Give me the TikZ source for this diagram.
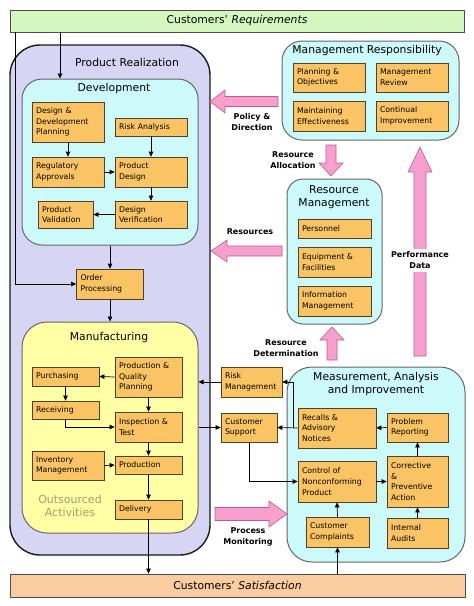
\documentclass[tikz,border=0pt]{standalone}
\usepackage{fontspec}
\setmainfont{DejaVu Sans}
\usetikzlibrary{arrows.meta}

\definecolor{reqgreen}{RGB}{212,247,192}
\definecolor{satorange}{RGB}{250,204,160}
\definecolor{boxfill}{RGB}{250,196,100}
\definecolor{boxline}{RGB}{80,64,40}
\definecolor{reallav}{RGB}{214,214,244}
\definecolor{devcyan}{RGB}{204,250,250}
\definecolor{manuyellow}{RGB}{255,255,165}
\definecolor{pinkfill}{RGB}{248,160,205}
\definecolor{pinkline}{RGB}{190,90,150}
\definecolor{outsrc}{RGB}{160,160,110}

\newcommand{\titlefont}{\fontsize{10.8}{12.5}\selectfont}
\newcommand{\itemfont}{\fontsize{7.8}{10.6}\selectfont}
\newcommand{\tagfont}{\bfseries\fontsize{8}{10.8}\selectfont}

% tail, angle, length, half body, half head, head length
\newcommand{\fatarrow}[6]{%
  \draw[bigarrow, shift={(#1)}, rotate=#2]
    (0,-#4) -- ({#3-#6},-#4) -- ({#3-#6},-#5) -- (#3,0)
    -- ({#3-#6},#5) -- ({#3-#6},#4) -- (0,#4) -- cycle;}

\begin{document}
\begin{tikzpicture}[x=1pt, y=-1pt,
    bar/.style={draw=black!70, line width=0.8pt, inner sep=0pt, font=\titlefont},
    region/.style={draw=black!75, line width=1pt, inner sep=0pt},
    title/.style={font=\titlefont, align=center, inner sep=0pt},
    item/.style={draw=boxline, fill=boxfill, line width=0.7pt, font=\itemfont,
      align=left, inner xsep=4pt, inner ysep=1pt},
    flow/.style={-{Triangle[length=5pt,width=4.5pt]}, line width=0.7pt},
    bigarrow/.style={draw=pinkline, fill=pinkfill, line width=0.6pt},
    tag/.style={font=\tagfont, align=center, inner sep=1pt}]

  \useasboundingbox (0,0) rectangle (474,606);

  % Customers
  \node[bar, fill=reqgreen, minimum width=454pt, minimum height=22pt] (req) at (237,21) {Customers' \textit{Requirements}};
  \node[bar, fill=satorange, minimum width=455pt, minimum height=23pt] (sat) at (237.5,585.5) {Customers' \textit{Satisfaction}};

  % Product realization
  \node[region, draw=black!90, line width=1.4pt, fill=reallav, rounded corners=30pt, minimum width=200pt, minimum height=510pt] (real) at (110,300) {};
  \node[title] (realtitle) at (127,62) {Product Realization};
  \node[region, draw=black!60, fill=devcyan, rounded corners=20pt, minimum width=176pt, minimum height=166pt] (dev) at (110,162) {};
  \node[title] (devtitle) at (114,89) {Development};
  \node[region, draw=black!60, fill=manuyellow, rounded corners=25pt, minimum width=176pt, minimum height=211pt] (manu) at (110,427.5) {};
  \node[title] (manutitle) at (109,338) {Manufacturing};
  \node[title, text=outsrc, font=\fontsize{11}{13}\selectfont] (outsrc) at (70,505.5) {Outsourced\\Activities};

  % Management, resources, measurement
  \node[region, draw=black!60, fill=devcyan, rounded corners=20pt, minimum width=177pt, minimum height=99pt] (mgmt) at (370.5,90.5) {};
  \node[title] (mgmttitle) at (367,51) {Management Responsibility};
  \node[region, draw=black!60, fill=devcyan, rounded corners=16pt, minimum width=95pt, minimum height=145pt] (res) at (334.5,251.5) {};
  \node[title] (restitle) at (334,197) {Resource\\Management};
  \node[region, draw=black!60, fill=devcyan, rounded corners=25pt, minimum width=178pt, minimum height=195pt] (meas) at (376,464.5) {};
  \node[title] (meastitle) at (376,384) {Measurement, Analysis\\and Improvement};

  % Development boxes
  \node[item, text width=64pt, minimum height=40pt] (ddp) at (68,122) {Design \&\\Development\\Planning};
  \node[item, text width=64pt, minimum height=18pt] (risk) at (151,127) {Risk Analysis};
  \node[item, text width=64pt, minimum height=30pt] (reg) at (68,172) {Regulatory\\Approvals};
  \node[item, text width=64pt, minimum height=30pt] (pdes) at (151,172) {Product\\Design};
  \node[item, text width=47pt, minimum height=27pt] (pval) at (65.5,214.5) {Product\\Validation};
  \node[item, text width=64pt, minimum height=27pt] (dver) at (151,214.5) {Design\\Verification};
  \node[item, text width=59pt, minimum height=30pt] (order) at (110,284) {Order\\Processing};

  % Manufacturing boxes
  \node[item, text width=59pt, minimum height=40pt] (pqp) at (148.5,377) {Production \&\\Quality\\Planning};
  \node[item, text width=59pt, minimum height=19pt] (purch) at (65.5,376.5) {Purchasing};
  \node[item, text width=59pt, minimum height=18pt] (recv) at (65.5,410) {Receiving};
  \node[item, text width=59pt, minimum height=30pt] (insp) at (148.5,427) {Inspection \&\\Test};
  \node[item, text width=64pt, minimum height=29pt] (inv) at (68,465.5) {Inventory\\Management};
  \node[item, text width=59pt, minimum height=18pt] (prodn) at (148.5,465) {Production};
  \node[item, text width=59pt, minimum height=19pt] (deliv) at (148.5,509.5) {Delivery};

  % Management boxes
  \node[item, text width=64pt, minimum height=29pt] (plan) at (329,77.5) {Planning \&\\Objectives};
  \node[item, text width=64pt, minimum height=29pt] (review) at (412,77.5) {Management\\Review};
  \node[item, text width=64pt, minimum height=30pt] (maint) at (329,116) {Maintaining\\Effectiveness};
  \node[item, text width=64pt, minimum height=30pt] (contimp) at (412,116) {Continual\\Improvement};

  % Resource boxes
  \node[item, text width=65pt, minimum height=19pt] (pers) at (334.5,228.5) {Personnel};
  \node[item, text width=65pt, minimum height=30pt] (equip) at (334.5,262) {Equipment \&\\Facilities};
  \node[item, text width=65pt, minimum height=30pt] (info) at (334.5,301) {Information\\Management};

  % Between the columns
  \node[item, text width=53pt, minimum height=30pt] (riskm) at (251.5,382) {Risk\\Management};
  \node[item, text width=48pt, minimum height=29pt] (csupp) at (249,427.5) {Customer\\Support};

  % Measurement boxes
  \node[item, text width=70pt, minimum height=40pt] (recalls) at (337,428) {Recalls \&\\Advisory\\Notices};
  \node[item, text width=53pt, minimum height=29pt] (probrep) at (417.5,427.5) {Problem\\Reporting};
  \node[item, text width=70pt, minimum height=41pt] (control) at (337,481.5) {Control of\\Nonconforming\\Product};
  \node[item, text width=53pt, minimum height=51pt] (cpa) at (417.5,481.5) {Corrective\\\&\\Preventive\\Action};
  \node[item, text width=55pt, minimum height=30pt] (complaints) at (337.5,532) {Customer\\Complaints};
  \node[item, text width=53pt, minimum height=30pt] (audits) at (417.5,533) {Internal\\Audits};

  % Connectors
  \coordinate (reqtap) at (60,32);
  \coordinate (reqleft) at (15,32);
  \coordinate (branch) at (293,428);
  \draw[flow] (reqtap) -- (reqtap |- dev.north);
  \draw[flow] (reqleft) |- (order.west);
  \draw[flow] (dev.south) -- (order.north);
  \draw[flow] (order.south) -- (manu.north);
  \draw[flow] (ddp.south) -- (reg.north);
  \draw[flow] (risk.south) -- (pdes.north);
  \draw[flow] (reg.east) -- (pdes.west);
  \draw[flow] (pdes.south) -- (dver.north);
  \draw[flow] (dver.west) -- (pval.east);
  \draw[flow] (pqp.west) -- (purch.east);
  \draw[flow] (purch.south) -- (recv.north);
  \draw[flow] (recv.south) |- (insp.west);
  \draw[flow] (pqp.south) -- (insp.north);
  \draw[flow] (insp.south) -- (prodn.north);
  \draw[flow] (inv.east) -- (prodn.west);
  \draw[flow] (prodn.south) -- (deliv.north);
  \draw[flow] (deliv.south) -- (deliv.south |- sat.north);
  \draw[flow] (riskm.west) -- (riskm.west -| manu.east);
  \draw[flow] (csupp.west -| manu.east) -- (csupp.west);
  \draw[flow] (recalls.west) -- (csupp.east);
  \draw[flow] (branch) |- (riskm.east);
  \draw[flow] (csupp.south) |- (control.west);
  \draw[flow] (probrep.west) -- (recalls.east);
  \draw[flow] (cpa.north) -- (probrep.south);
  \draw[flow] (control.east) -- (cpa.west);
  \draw[flow] (audits.north) -- (cpa.south);
  \draw[flow] (complaints.north) -- (control.south);
  \draw[flow] (complaints.south |- sat.north) -- (complaints.south);

  % Big pink arrows
  \fatarrow{278,101.5}{180}{68}{5}{11.5}{15}
  \fatarrow{282,251}{180}{71}{5}{11}{16}
  \fatarrow{331,145}{270}{31}{5}{12}{13}
  \fatarrow{332,360}{90}{33}{5}{12}{13}
  \fatarrow{420,356}{90}{209}{6}{12}{25}
  \fatarrow{215,514}{0}{72}{6.5}{13}{18}

  \node[tag] (policy) at (252,122) {Policy \&\\Direction};
  \node[tag] (alloc) at (293,160) {Resource\\Allocation};
  \node[tag] (resources) at (250,232) {Resources};
  \node[tag, fill=white, inner sep=3pt] (perf) at (420,260) {Performance\\Data};
  \node[tag] (determ) at (286,348) {Resource\\Determination};
  \node[tag] (monitor) at (248,537) {Process\\Monitoring};
\end{tikzpicture}
\end{document}
